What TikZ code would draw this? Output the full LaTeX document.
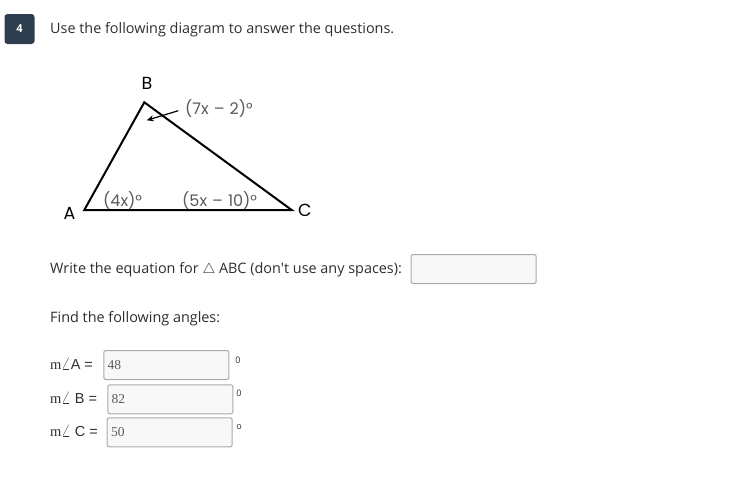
\documentclass[tikz,border=0pt]{standalone}
\usepackage{fontspec}
\setmainfont{Open Sans}
\newfontfamily\trifont{Poppins}
\newfontfamily\boxfont{Liberation Serif}
\newfontfamily\arialfont{Liberation Sans}
\usepackage{tikz}
\usetikzlibrary{arrows.meta}
\pgfdeclarelayer{edgelayer}
\pgfdeclarelayer{nodelayer}
\pgfsetlayers{edgelayer,nodelayer,main}
\definecolor{badgeblue}{HTML}{2F3E4E}
\definecolor{prompttext}{HTML}{2E2E2E}
\definecolor{labelgrey}{HTML}{5A5A5A}
\definecolor{boxfill}{HTML}{F8F8F8}
\definecolor{boxline}{HTML}{A9A9A9}
\tikzstyle{badge}=[fill=badgeblue, text=white, rounded corners=3pt, minimum size=30pt, inner sep=0pt, font=\bfseries\fontsize{11}{12}\selectfont]
\tikzstyle{prompt}=[anchor=base west, inner sep=0pt, text=prompttext, font=\fontsize{14.4}{16}\selectfont]
\tikzstyle{anglename}=[anchor=base west, inner sep=0pt, text=prompttext, font=\arialfont\fontsize{14.5}{16}\selectfont]
\tikzstyle{vertexlabel}=[anchor=base, inner sep=0pt, font=\trifont\fontsize{17.5}{19}\selectfont]
\tikzstyle{anglelabel}=[anchor=base west, inner sep=0pt, text=labelgrey, font=\trifont\fontsize{16}{18}\selectfont]
\tikzstyle{answerbox}=[draw=boxline, fill=boxfill, line width=1pt, rounded corners=2pt, anchor=north west, inner sep=0pt, minimum width=125pt, minimum height=29pt]
\tikzstyle{answer}=[anchor=base west, inner sep=0pt, text=labelgrey, font=\boxfont\fontsize{13.5}{15}\selectfont]
\tikzstyle{degree}=[inner sep=0pt, text=prompttext, font=\fontsize{9}{10}\selectfont]
\tikzstyle{edge}=[draw=black, line width=2pt]
\newcommand{\mangle}{{\boxfont m}{\fontsize{17}{17}\selectfont\(\angle\)}}
\newcommand{\wideminus}{\hspace{5pt}–\hspace{5pt}}

\begin{document}
\begin{tikzpicture}[x=1pt, y=-1pt]
	\useasboundingbox (0,0) rectangle (740,480);
	\begin{pgfonlayer}{nodelayer}

	%heading
		\node [style=badge] (qnum) at (19.500,29.000) {4};
		\node [style=prompt] (title) at (50.000,33.500) {Use the following diagram to answer the questions.};

	%triangle ABC
		\coordinate (A) at (84.300,210.000);
		\coordinate (B) at (144.300,102.300);
		\coordinate (C) at (291.700,210.000);
		\node [style=vertexlabel] (labB) at (147.000,89.300) {B};
		\node [style=vertexlabel] (labA) at (69.500,219.300) {A};
		\node [style=vertexlabel] (labC) at (305.000,216.000) {C};
		\node [style=anglelabel] (angB) at (185.000,114.000) {(7x\wideminus 2)°};
		\node [style=anglelabel] (angA) at (103.000,206.500) {(4x)°};
		\node [style=anglelabel] (angC) at (182.000,206.500) {(5x\wideminus 10)°};
		\coordinate (arrowtail) at (178.300,110.700);
		\coordinate (arrowtip) at (146.700,120.300);

	%equation
		\node [style=prompt] (eqtext) at (50.000,273.500) {Write the equation for \(\triangle\) ABC (don\textquotesingle t use any spaces):};
		\node [style=answerbox] (eqbox) at (410.700,254.000) {};

	%angles
		\node [style=prompt] (findtext) at (50.000,322.000) {Find the following angles:};
		\node [style=anglename] (mA) at (50.000,369.500) {\mangle A =};
		\node [style=anglename] (mB) at (50.000,403.000) {\mangle\ B =};
		\node [style=anglename] (mC) at (50.000,436.000) {\mangle\ C =};
		\node [style=answerbox] (boxA) at (103.300,350.000) {};
		\node [style=answerbox] (boxB) at (107.300,384.300) {};
		\node [style=answerbox] (boxC) at (106.700,417.300) {};
		\node [style=answer] (valA) at (107.500,369.500) {48};
		\node [style=answer] (valB) at (111.500,403.000) {82};
		\node [style=answer] (valC) at (111.000,436.000) {50};
		\node [style=degree] (degA) at (238.000,360.000) {0};
		\node [style=degree] (degB) at (239.000,393.300) {0};
		\node [style=degree] (degC) at (239.200,427.500) {o};

	\end{pgfonlayer}
	\begin{pgfonlayer}{edgelayer}

		%triangle ABC
		\draw [style=edge] (A) -- (B) -- (C) -- cycle;
		\draw [-{Stealth[length=7pt,width=6pt]}, line width=1.2pt] (arrowtail) to (arrowtip);

	\end{pgfonlayer}
\end{tikzpicture}
\end{document}
